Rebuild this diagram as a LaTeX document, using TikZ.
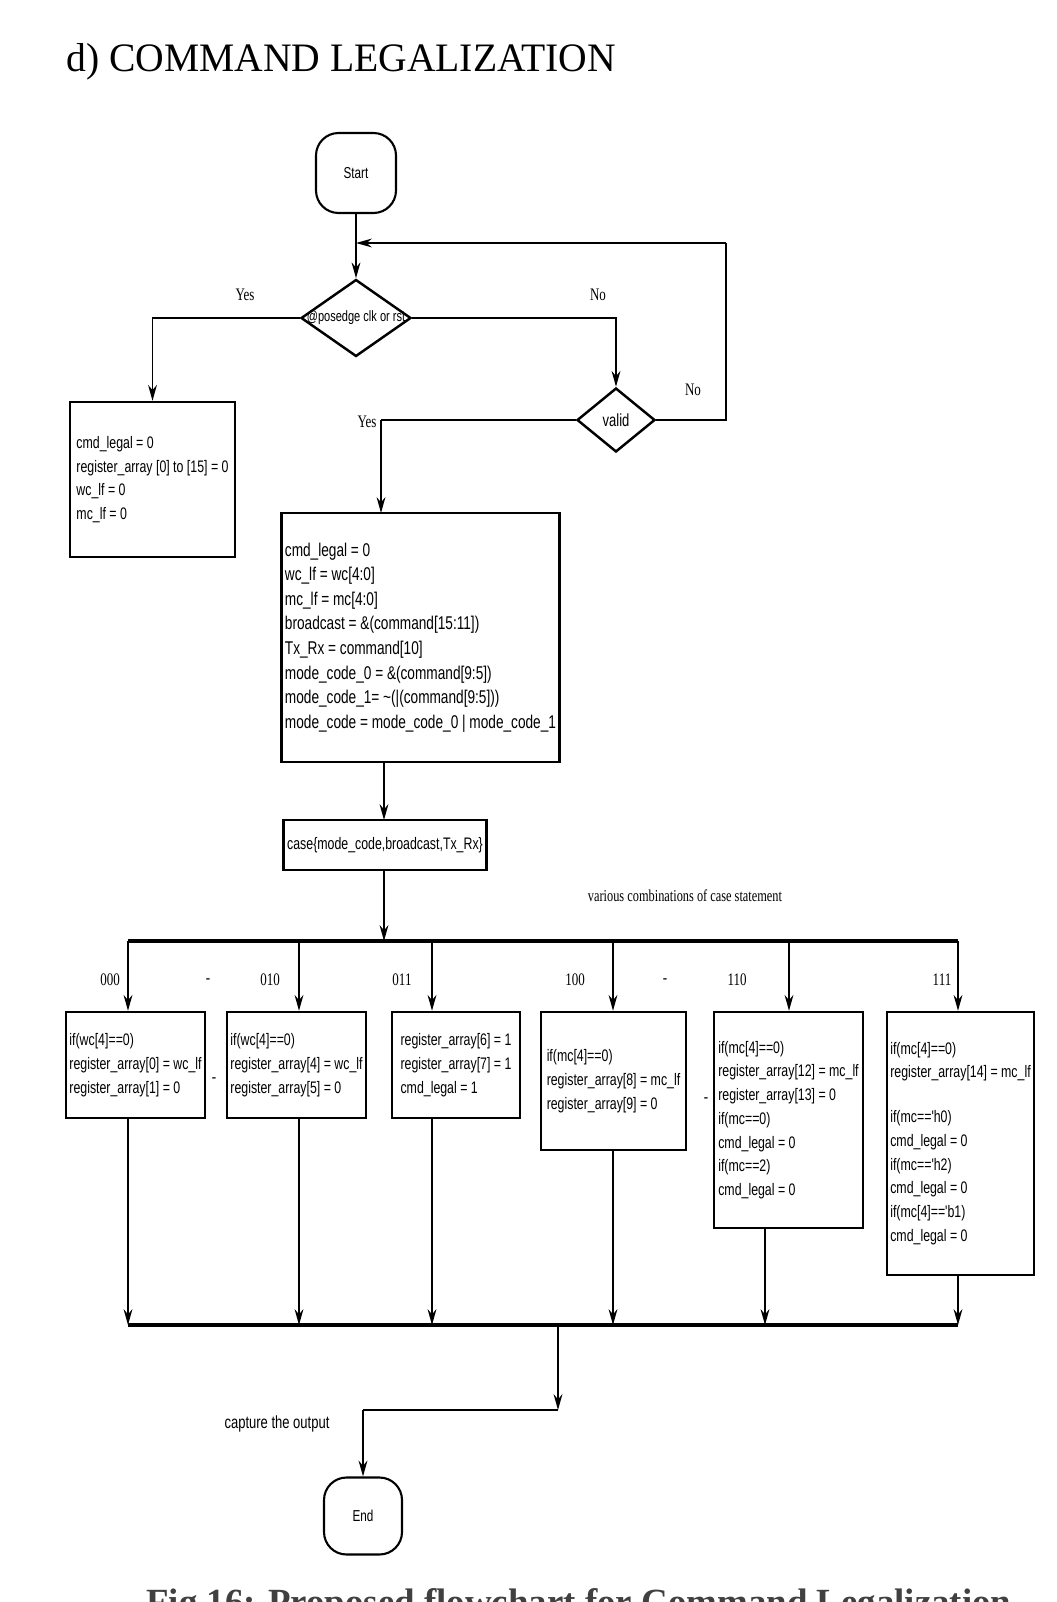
\documentclass[tikz,border=0pt]{standalone}
\usepackage{fontspec}
\setmainfont{Liberation Serif}
\newfontfamily\nar{Liberation Sans}[FakeStretch=0.74]
\newfontfamily\nserif{Liberation Serif}[FakeStretch=0.74]
\newfontfamily\ttl{Liberation Serif}[FakeStretch=0.98]
\usetikzlibrary{shapes.geometric,arrows.meta,calc}
\begin{document}
\begin{tikzpicture}[x=0.02cm,y=-0.02cm,
  ar/.style={-{Stealth[length=9pt,width=5pt,open]}, line width=1.1pt},
  ln/.style={line width=1.1pt},
  bus/.style={line width=2pt},
  box/.style={draw, line width=1.4pt, align=left, font=\nar\fontsize{9.5}{13.5}\selectfont, inner sep=2pt, anchor=center},
  term/.style={draw, line width=1.2pt, rounded corners=0.45cm, font=\nar\fontsize{9}{11}\selectfont},
  dia/.style={draw, diamond, line width=1.4pt, inner sep=0pt},
  lab/.style={font=\nserif\fontsize{10}{12}\selectfont},
  sl/.style={font=\nar\fontsize{10}{12}\selectfont}]
\clip (0,0) rectangle (1056,1602);
\useasboundingbox (0,0) rectangle (1056,1602);
\node[anchor=west, font=\ttl\fontsize{23}{28}\selectfont] (title) at (60,62) {d) COMMAND LEGALIZATION};

\node[term, minimum width=1.6cm, minimum height=1.6cm] (start) at (356,173) {Start};
\node[dia, minimum width=2.2cm, minimum height=1.54cm, label={[font=\nar\fontsize{8.5}{10}\selectfont]center:@posedge clk or rst}] (d1) at (356,318) {};
\node[dia, minimum width=1.56cm, minimum height=1.28cm, label={[sl]center:valid}] (d2) at (616,420) {};

\node[box, minimum width=3.3cm, minimum height=3.1cm] (b0) at (152.5,479.5)
 {cmd\_legal = 0\\register\_array [0] to [15] = 0\\wc\_lf = 0\\mc\_lf = 0};
\node[box, minimum width=4.82cm, minimum height=4.98cm, font=\nar\fontsize{10.5}{14}\selectfont] (bi) at (420.5,637.5)
 {cmd\_legal = 0\\wc\_lf = wc[4:0]\\mc\_lf = mc[4:0]\\broadcast = \&(command[15:11])\\Tx\_Rx = command[10]\\mode\_code\_0 = \&(command[9:5])\\mode\_code\_1= \textasciitilde(|(command[9:5]))\\mode\_code = mode\_code\_0 | mode\_code\_1};
\node[box, minimum width=4.0cm, minimum height=1.0cm] (cs) at (385,845) {case\{mode\_code,broadcast,Tx\_Rx\}};

\node[box, minimum width=2.7cm, minimum height=2.12cm] (c1) at (135.5,1065)
 {if(wc[4]==0)\\register\_array[0] = wc\_lf\\register\_array[1] = 0};
\node[box, minimum width=2.7cm, minimum height=2.12cm] (c2) at (296.5,1065)
 {if(wc[4]==0)\\register\_array[4] = wc\_lf\\register\_array[5] = 0};
\node[box, minimum width=2.56cm, minimum height=2.12cm] (c3) at (456,1065)
 {register\_array[6] = 1\\register\_array[7] = 1\\cmd\_legal = 1};
\node[box, minimum width=2.9cm, minimum height=2.76cm] (c4) at (613.5,1081)
 {if(mc[4]==0)\\register\_array[8] = mc\_lf\\register\_array[9] = 0};
\node[box, minimum width=2.98cm, minimum height=4.32cm] (c5) at (788.5,1120)
 {if(mc[4]==0)\\register\_array[12] = mc\_lf\\register\_array[13] = 0\\if(mc==0)\\cmd\_legal = 0\\if(mc==2)\\cmd\_legal = 0};
\node[box, minimum width=2.9cm, minimum height=5.26cm] (c6) at (960.5,1143.5)
 {if(mc[4]==0)\\register\_array[14] = mc\_lf\\[12pt]if(mc=='h0)\\cmd\_legal = 0\\if(mc=='h2)\\cmd\_legal = 0\\if(mc[4]=='b1)\\cmd\_legal = 0};

\node[term, minimum width=1.56cm, minimum height=1.54cm] (end) at (363,1516) {End};

% labels
\node[lab] (ly1) at (245,295) {Yes};
\node[lab] (ln1) at (598,295) {No};
\node[lab] (ln2) at (693,390) {No};
\node[lab] (ly2) at (367,422) {Yes};
\node[lab, font=\nserif\fontsize{9.5}{11}\selectfont] (lv) at (685,896) {various combinations of case statement};
\node[lab] (k1) at (110,980) {000};
\node[lab] (k2) at (270,980) {010};
\node[lab] (k3) at (402,980) {011};
\node[lab] (k4) at (575,980) {100};
\node[lab] (k5) at (737,980) {110};
\node[lab] (k6) at (942,980) {111};
\node[lab] (m1) at (208,981) {-};
\node[lab] (m2) at (665,981) {-};
\node[lab] (m3) at (214,1080) {-};
\node[lab] (m4) at (706,1100) {-};
\node[sl] (cap) at (277,1424) {capture the output};

% coordinates
\coordinate (lp) at (356,243);
\coordinate (lr) at (726,420);
\coordinate (ti) at (381,513);
\coordinate (bo) at (384,762);
\coordinate (ci) at (384,820);
\coordinate (co) at (384,870);
\coordinate (bj) at (384,941);
\coordinate (bl) at (128,941);
\coordinate (br) at (958,941);
\foreach \n/\x in {1/128,2/299,3/432,4/613,5/789,6/958}{\coordinate (i\n) at (\x,941);}
\foreach \n/\x in {1/128,2/299,3/432,4/613,5/765,6/958}{\coordinate (o\n) at (\x,1325);}
\coordinate (ml) at (128,1325);
\coordinate (mr) at (958,1325);
\coordinate (mj) at (558,1325);
\coordinate (mk) at (558,1410);
\coordinate (mn) at (363,1410);

% connectors
\draw[ar] (start) -- (d1);
\draw[ln] (d2.east) -- (lr) -- (lr |- lp);
\draw[ar] (lr |- lp) -- (lp);
\draw[ar] (d1.west) -| (b0.north);
\draw[ar] (d1.east) -| (d2.north);
\draw[ln] (d2.west) -- (d2.west -| ti);
\draw[ar] (d2.west -| ti) -- (ti);
\draw[ar] (bo) -- (ci);
\draw[ar] (co) -- (bj);
\draw[bus] (bl) -- (br);
\draw[ar] (i1) -- (i1 |- c1.north);
\draw[ar] (i2) -- (i2 |- c2.north);
\draw[ar] (i3) -- (i3 |- c3.north);
\draw[ar] (i4) -- (i4 |- c4.north);
\draw[ar] (i5) -- (i5 |- c5.north);
\draw[ar] (i6) -- (i6 |- c6.north);
\draw[ar] (o1 |- c1.south) -- (o1);
\draw[ar] (o2 |- c2.south) -- (o2);
\draw[ar] (o3 |- c3.south) -- (o3);
\draw[ar] (o4 |- c4.south) -- (o4);
\draw[ar] (o5 |- c5.south) -- (o5);
\draw[ar] (o6 |- c6.south) -- (o6);
\draw[bus] (ml) -- (mr);
\draw[ar] (mj) -- (mk);
\draw[ln] (mk) -- (mn);
\draw[ar] (mn) -- (end);

\node[anchor=base west, font=\bfseries\fontsize{21}{26}\selectfont, text=black!75] (fig) at (140,1614) {Fig 16: Proposed flowchart for Command Legalization};
\end{tikzpicture}
\end{document}
